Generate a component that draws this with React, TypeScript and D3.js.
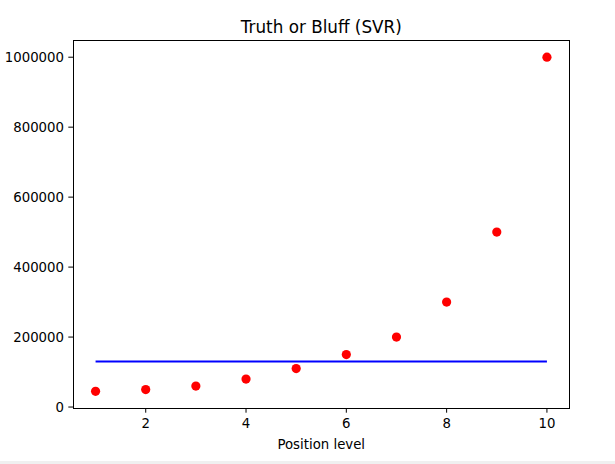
import React from "react";
import * as d3 from "d3";

const positionLevels = [1, 2, 3, 4, 5, 6, 7, 8, 9, 10];
const salaries = [45000, 50000, 60000, 80000, 110000, 150000, 200000, 300000, 500000, 1000000];
const svrPredictions = [130000, 130000, 130000, 130000, 130000, 130000, 130000, 130000, 130000, 130000];
const xTicks = [2, 4, 6, 8, 10];
const yTicks = [0, 200000, 400000, 600000, 800000, 1000000];

const W = 615;
const H = 464;
const left = 73;
const right = 569.5;
const top = 40.5;
const bottom = 408;
const font = "'DejaVu Sans', sans-serif";

export default function App() {
  const x = d3.scaleLinear().domain([0.55, 10.45]).range([left, right]);
  const yMin = 45000 - (1000000 - 45000) * 0.05;
  const yMax = 1000000 + (1000000 - 45000) * 0.05;
  const y = d3.scaleLinear().domain([yMin, yMax]).range([bottom, top]);
  const line = d3
    .line<number>()
    .x((_, i) => x(positionLevels[i]))
    .y((d) => y(d));

  return (
    <svg
      width={W}
      height={H}
      style={{ position: "absolute", left: 0, top: 0, background: "#fff" }}
      fontFamily={font}
    >
      <rect x={0} y={0} width={W} height={H} fill="#fff" />
      <rect x={0} y={461} width={W} height={3} fill="#f0f0f0" />
      <path d={line(svrPredictions) || ""} fill="none" stroke="#0000ff" strokeWidth={2} />
      {positionLevels.map((p, i) => (
        <circle key={p} cx={x(p)} cy={y(salaries[i])} r={4.6} fill="#ff0000" />
      ))}
      <rect
        x={left}
        y={top}
        width={right - left}
        height={bottom - top}
        fill="none"
        stroke="#000"
        strokeWidth={1}
        shapeRendering="crispEdges"
      />
      {xTicks.map((t) => (
        <g key={t} transform={`translate(${x(t)},${bottom})`}>
          <line y1={0} y2={4.7} stroke="#000" strokeWidth={1} />
          <text y={20} textAnchor="middle" fontSize={13.3} fill="#000">
            {t}
          </text>
        </g>
      ))}
      {yTicks.map((t) => (
        <g key={t} transform={`translate(${left},${y(t)})`}>
          <line x1={0} x2={-4.7} stroke="#000" strokeWidth={1} />
          <text x={-9} dy="0.36em" textAnchor="end" fontSize={13.3} fill="#000">
            {t}
          </text>
        </g>
      ))}
      <text x={(left + right) / 2} y={32.5} textAnchor="middle" fontSize={16.8} fill="#000">
        Truth or Bluff (SVR)
      </text>
      <text x={(left + right) / 2} y={449} textAnchor="middle" fontSize={13.3} fill="#000">
        Position level
      </text>
    </svg>
  );
}
